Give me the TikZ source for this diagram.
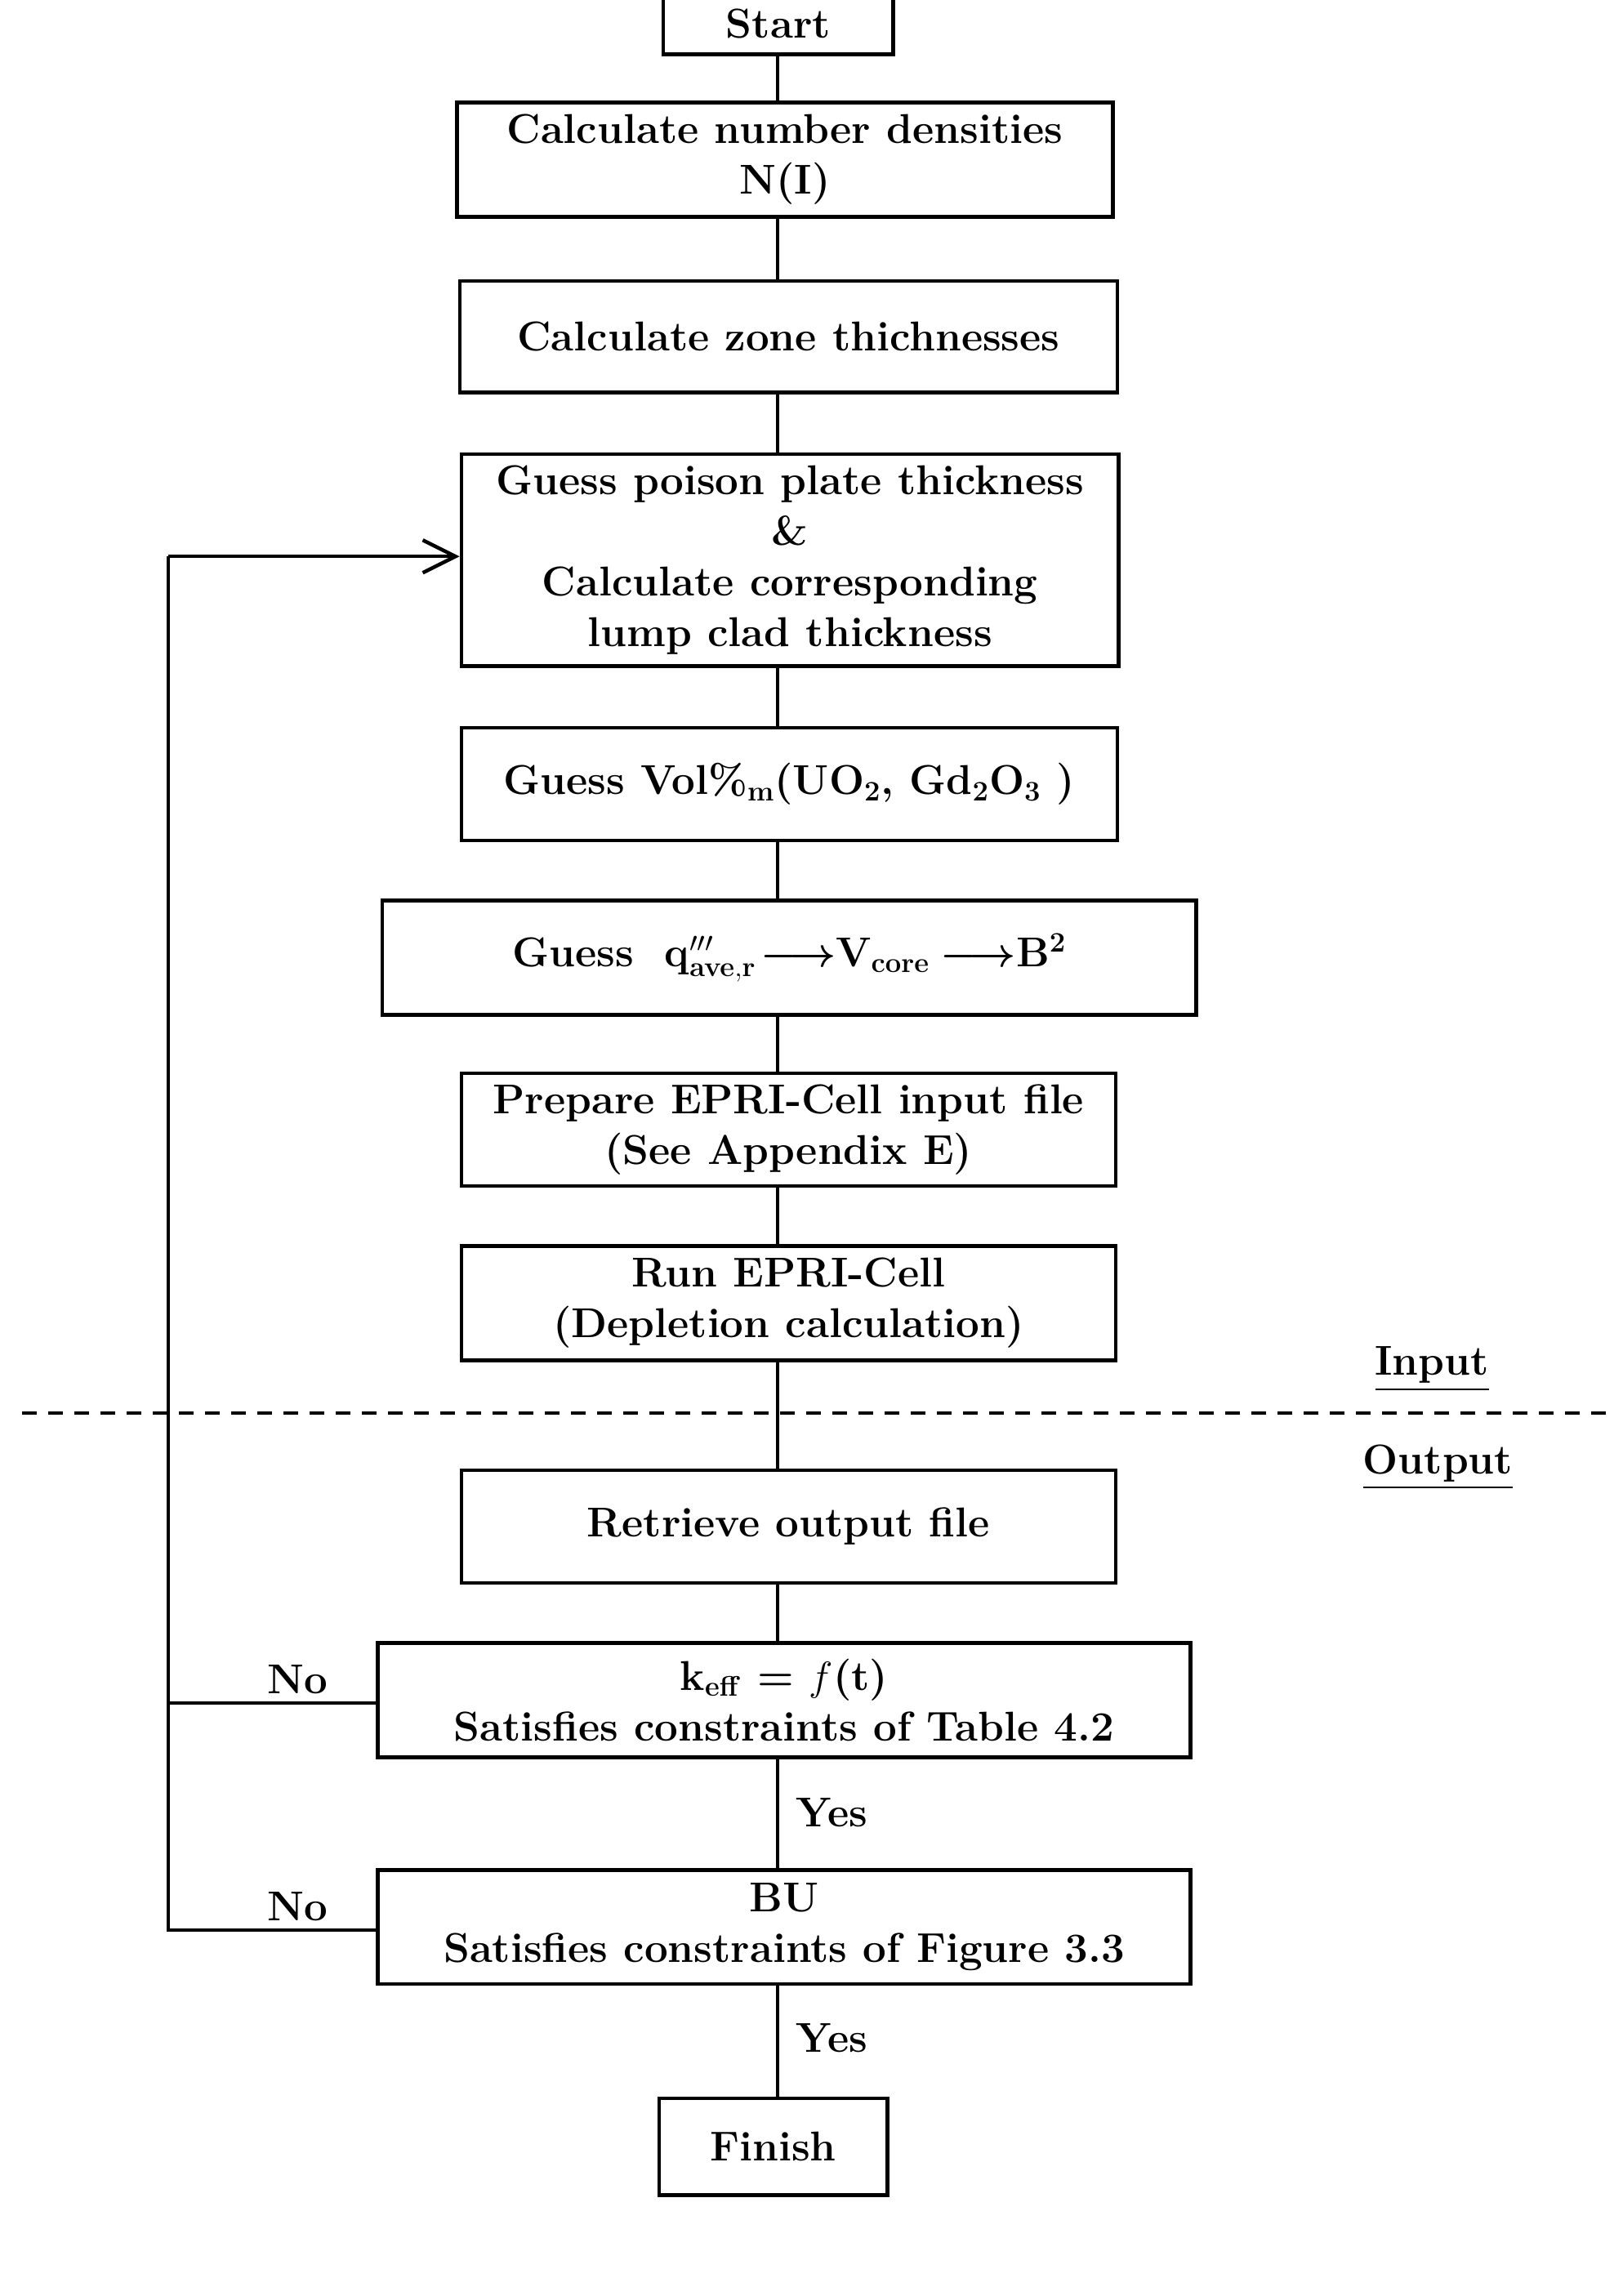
\documentclass[tikz,border=0pt]{standalone}
\usepackage{amsmath}
\usetikzlibrary{arrows.meta}
\begin{document}
\begin{tikzpicture}[x=0.896pt,y=-0.896pt,
  box/.style={draw,line width=2.2pt,inner sep=0pt,align=center,font=\bfseries\fontsize{25.5}{31}\selectfont},
  lbl/.style={font=\bfseries\fontsize{25.5}{28}\selectfont},
  ln/.style={line width=2.2pt}]
\useasboundingbox (0,0) rectangle (1102,1568);
\def\bx#1#2#3#4#5#6{\node[box,minimum width={(#3-#2)*0.896pt},minimum height={(#5-#4)*0.896pt}] (#1) at ({(#2+#3)/2},{(#4+#5)/2}) {#6};}
\bx{s}{453}{610}{-5}{37}{Start}
\bx{b1}{312}{760}{70}{148}{Calculate number densities\\N(I)}
\bx{b2}{314}{763}{192}{268}{Calculate zone thichnesses}
\bx{b3}{315}{764}{310}{455}{Guess poison plate thickness\\\&\\Calculate corresponding\\lump clad thickness}
\bx{b4}{315}{763}{497}{574}{Guess Vol\%$_{\mathbf m}$(UO$_{\mathbf 2}$, Gd$_{\mathbf 2}$O$_{\mathbf 3}$ )}
\bx{b5}{261}{817}{615}{693}{Guess\ \ q$'''_{\mathbf{ave,r}}\!\boldsymbol{\longrightarrow}$V$_{\mathbf{core}}\boldsymbol{\longrightarrow}$B$^{\mathbf 2}$}
\bx{b6}{315}{762}{733}{810}{Prepare EPRI-Cell input file\\(See Appendix E)}
\bx{b7}{315}{762}{851}{929}{Run EPRI-Cell\\(Depletion calculation)}
\bx{b8}{315}{762}{1004}{1081}{Retrieve output file}
\bx{b9}{258}{813}{1122}{1200}{k$_{\mathbf{eff}}$ = $f$(t)\\Satisfies constraints of Table 4.2}
\bx{b10}{258}{813}{1277}{1355}{BU\\Satisfies constraints of Figure 3.3}
\bx{f}{450}{606}{1433}{1499}{Finish}
\coordinate (spine) at (531,0);
\foreach \a/\b in {s/b1,b1/b2,b2/b3,b3/b4,b4/b5,b5/b6,b6/b7,b7/b8,b8/b9,b9/b10,b10/f}
  \draw[ln] (\a.south -| spine) -- (\b.north -| spine);
\coordinate (l9) at (115,1163);
\coordinate (l10) at (115,1318);
\coordinate (l3) at (115,380);
\draw[ln] (b9.west|-l9) -- (l9);
\draw[ln] (b10.west|-l10) -- (l10) -- (l3);
\draw[ln,-{Straight Barb[length=20pt,width=20pt,line width=2.2pt]}] (l3) -- (b3.west|-l3);
\draw[line width=2.2pt,dash pattern=on 9pt off 7pt] (15,965) -- (1102,965);
\node[lbl] (no1) at (203,1147) {No};
\node[lbl] (no2) at (203,1302) {No};
\node[lbl] (y1) at (568,1238) {Yes};
\node[lbl] (y2) at (568,1392) {Yes};
\node[lbl] (in) at (978,935) {\underline{Input}};
\node[lbl] (out) at (982,1002) {\underline{Output}};
\end{tikzpicture}
\end{document}
